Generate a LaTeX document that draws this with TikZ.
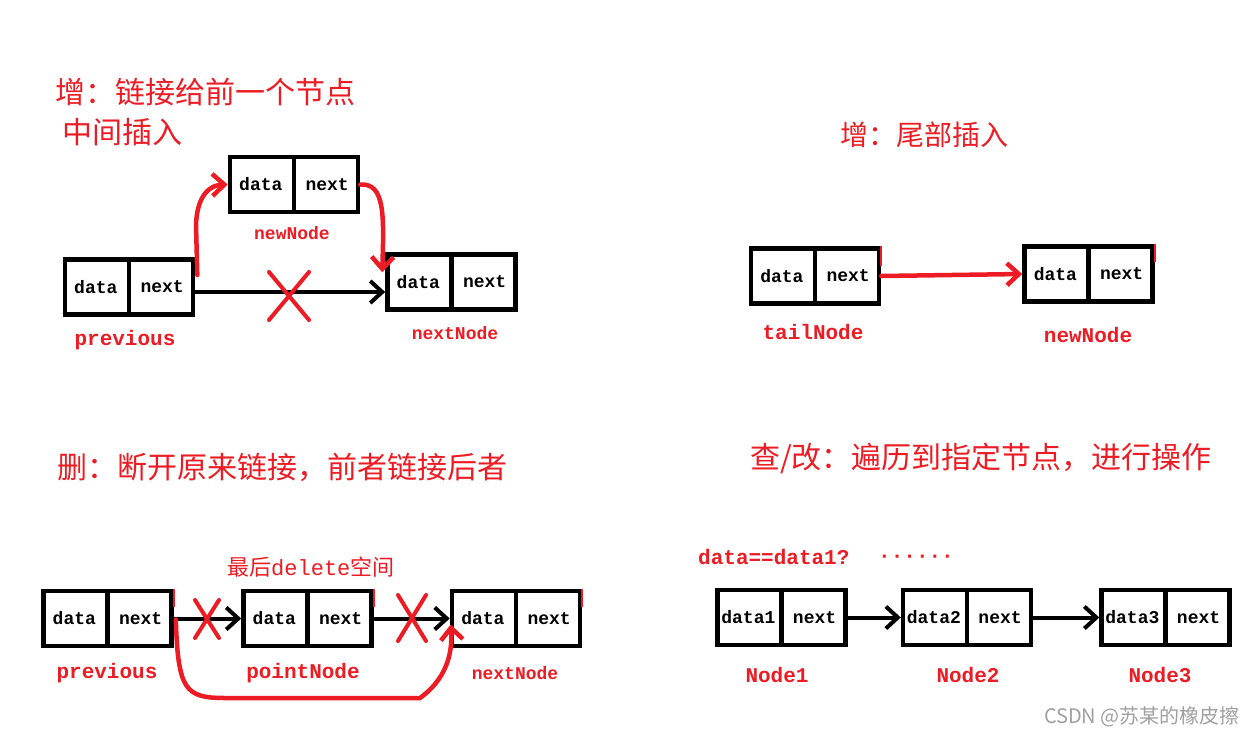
\documentclass[tikz,border=0pt]{standalone}
\usepackage{fontspec}
\setmainfont{Liberation Mono}
\newfontfamily\cjk{Noto Sans CJK SC}
\usetikzlibrary{shapes.multipart,arrows.meta,calc}
\definecolor{paintred}{RGB}{237,28,36}
\definecolor{markgray}{RGB}{160,160,160}
\tikzset{
  listnode/.style={rectangle split,rectangle split horizontal,rectangle split parts=2,draw,line width=4.5pt,inner xsep=9.3pt,inner ysep=0pt,minimum height=55pt,font=\fontsize{18}{20}\selectfont\bfseries},
  heading/.style={anchor=west,inner sep=0pt,text=paintred,font=\cjk\fontsize{30}{32}\selectfont},
  lbl/.style={inner sep=0pt,text=paintred,font=\fontsize{21}{23}\selectfont\bfseries},
  smalllbl/.style={lbl,font=\fontsize{18}{20}\selectfont\bfseries},
  blkarrow/.style={draw,line width=4pt,line cap=round,-{Straight Barb[length=12pt,width=22pt]}},
  redarrow/.style={blkarrow,draw=paintred,line width=4.5pt},
  redtick/.style={draw=paintred,line width=2pt},
  pics/redx/.style args={#1/#2}{code={\draw[paintred,line width=4pt,line cap=round] (-#1,-#2) -- (#1,#2) (-#1,#2) -- (#1,-#2);}},
}
\begin{document}
\begin{tikzpicture}[x=1pt,y=-1pt]
\fill[white] (0,0) rectangle (1257,736);
\useasboundingbox (0,0) rectangle (1257,736);

% insert in the middle
\node[heading] (ins-head) at (55,92) {增：链接给前一个节点};
\node[heading] (ins-sub) at (62,132) {中间插入};
\node[listnode] (ins-prev) at (129,287) {data\nodepart{two}next};
\node[listnode] (ins-new) at (294,184.5) {data\nodepart{two}next};
\node[listnode] (ins-next) at (451.5,282) {data\nodepart{two}next};
\node[lbl] (ins-prev-lbl) at (125,340) {previous};
\node[smalllbl] (ins-new-lbl) at (292,233) {newNode};
\node[smalllbl] (ins-next-lbl) at (455,333) {nextNode};
\draw[blkarrow] ($(ins-prev.east)+(0,5)$) -- ($(ins-next.west)+(0,10)$);
\pic at (289,296) {redx=20/24};
\draw[redarrow] ($(ins-prev.east)+(2,-12)$) -- (196,225) .. controls (197,195) and (210,185) .. (ins-new.west);
\draw[redarrow] (ins-new.east) .. controls (385,183) and (384,215) .. ($(ins-next.north west)+(-3,20)$);

% insert at the tail
\node[heading,font=\cjk\fontsize{28}{30}\selectfont] (tail-head) at (840,135) {增：尾部插入};
\node[listnode] (tail-old) at (815,276) {data\nodepart{two}next};
\node[listnode] (tail-new) at (1088.5,274) {data\nodepart{two}next};
\node[lbl] (tail-old-lbl) at (813,332) {tailNode};
\node[lbl] (tail-new-lbl) at (1088,335) {newNode};
\draw[redarrow] (tail-old.east) -- (tail-new.west);
\draw[redtick] (tail-old.north east) -- ++(0,20);
\draw[redtick] (tail-new.north east) -- ++(0,18);

% delete
\node[heading] (del-head) at (57,467) {删：断开原来链接，前者链接后者};
\node[anchor=west,inner sep=0pt,text=paintred,font=\fontsize{22}{24}\selectfont] (del-note) at (227,567) {{\cjk 最后}delete{\cjk 空间}};
\node[listnode] (del-prev) at (107.5,618.5) {data\nodepart{two}next};
\node[listnode] (del-point) at (307.5,618.5) {data\nodepart{two}next};
\node[listnode] (del-next) at (516,618.5) {data\nodepart{two}next};
\node[lbl] (del-prev-lbl) at (107,673) {previous};
\node[lbl] (del-point-lbl) at (303,673) {pointNode};
\node[smalllbl] (del-next-lbl) at (515,673) {nextNode};
\draw[blkarrow] (del-prev.east) -- (del-point.west);
\draw[blkarrow] (del-point.east) -- (del-next.west);
\pic at (207,619) {redx=12/19};
\pic at (412,618) {redx=14/23};
\draw[redarrow] ($(del-prev.east)+(2,1)$) .. controls (178,690) and (185,698) .. (225,698) -- (420,698) .. controls (445,680) and (453,655) .. ($(del-next.west)+(1,6)$);
\draw[redtick] (del-prev.north east) -- ++(0,18);
\draw[redtick] (del-point.north east) -- ++(0,18);
\draw[redtick] (del-next.north east) -- ++(0,18);

% find / change
\node[heading] (find-head) at (750,458) {查/改：遍历到指定节点，进行操作};
\node[lbl,anchor=west] (find-note) at (698,557) {data==data1?};
\node[lbl,anchor=west] (find-dots) at (878,559) {······};
\node[listnode] (find-n1) at (781.5,617.5) {\makebox[43pt]{data1}\nodepart{two}next};
\node[listnode] (find-n2) at (967,617.5) {\makebox[43pt]{data2}\nodepart{two}next};
\node[listnode] (find-n3) at (1165.5,617.5) {\makebox[43pt]{data3}\nodepart{two}next};
\node[lbl] (find-n1-lbl) at (777,675) {Node1};
\node[lbl] (find-n2-lbl) at (968,675) {Node2};
\node[lbl] (find-n3-lbl) at (1160,675) {Node3};
\draw[blkarrow] (find-n1.east) -- (find-n2.west);
\draw[blkarrow] (find-n2.east) -- (find-n3.west);

\node[anchor=east,inner sep=0pt,text=markgray,font=\cjk\fontsize{20}{22}\selectfont] (mark) at (1240,717) {CSDN @苏某的橡皮擦};
\end{tikzpicture}
\end{document}
